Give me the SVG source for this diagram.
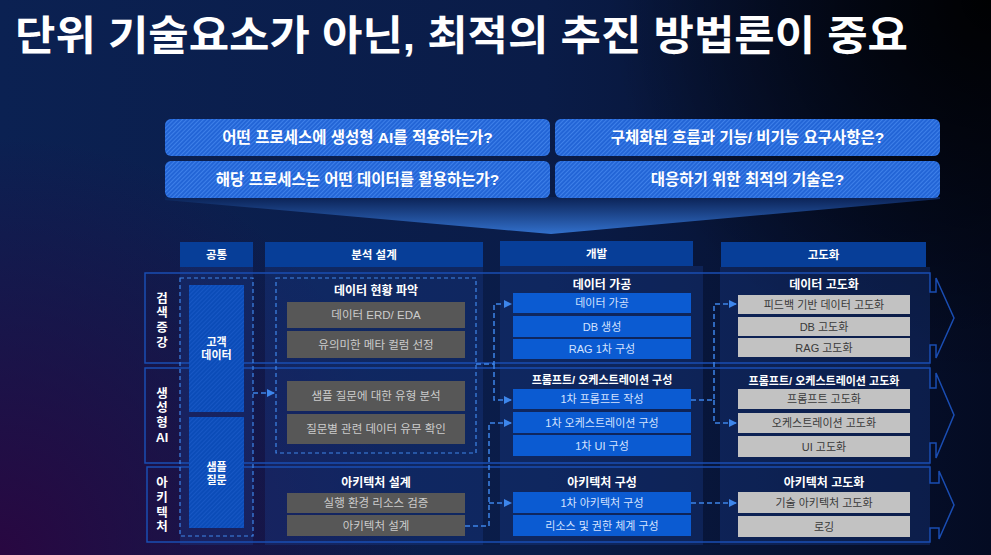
<svg xmlns="http://www.w3.org/2000/svg" width="991" height="555" viewBox="0 0 991 555">
<defs>
  <linearGradient id="bg" x1="0" y1="0" x2="1" y2="0">
    <stop offset="0" stop-color="#0b2152"/>
    <stop offset="0.55" stop-color="#0a1c48"/>
    <stop offset="1" stop-color="#040b22"/>
  </linearGradient>
  <radialGradient id="purple" cx="0" cy="555" r="420" gradientUnits="userSpaceOnUse">
    <stop offset="0" stop-color="#2a0640" stop-opacity="0.95"/>
    <stop offset="1" stop-color="#2a0640" stop-opacity="0"/>
  </radialGradient>
  <radialGradient id="dark" cx="991" cy="0" r="380" gradientUnits="userSpaceOnUse">
    <stop offset="0" stop-color="#000000" stop-opacity="0.95"/>
    <stop offset="1" stop-color="#000000" stop-opacity="0"/>
  </radialGradient>
  <linearGradient id="funnel" x1="0" y1="198" x2="0" y2="234" gradientUnits="userSpaceOnUse">
    <stop offset="0" stop-color="#0c2458"/>
    <stop offset="1" stop-color="#3270cc"/>
  </linearGradient>
  <pattern id="hatchQ" patternUnits="userSpaceOnUse" width="3" height="3" patternTransform="rotate(45)">
    <rect width="3" height="3" fill="#2365d6"/>
    <line x1="0" y1="0" x2="0" y2="3" stroke="#4a8cf2" stroke-width="1.4"/>
  </pattern>
  <pattern id="hatchC" patternUnits="userSpaceOnUse" width="3" height="3" patternTransform="rotate(45)">
    <rect width="3" height="3" fill="#0b4cb8"/>
    <line x1="0" y1="0" x2="0" y2="3" stroke="#1f5fcc" stroke-width="1.2"/>
  </pattern>
  <marker id="arr" markerUnits="userSpaceOnUse" markerWidth="9" markerHeight="9" refX="8" refY="4" orient="auto">
    <path d="M0,0 L8,4 L0,8 Z" fill="#3d86ec"/>
  </marker>
  <style>
    text { font-family: "Liberation Sans", "Noto Sans CJK KR", sans-serif; }
    .title { font-size: 41px; font-weight: 700; fill: #ffffff; }
    .q { font-size: 15.5px; font-weight: 700; fill: #ffffff; text-anchor: middle; }
    .hdr { font-size: 11.5px; font-weight: 700; fill: #ffffff; text-anchor: middle; }
    .rl { font-size: 12.5px; font-weight: 700; fill: #ffffff; text-anchor: middle; }
    .nt { font-size: 12px; font-weight: 700; fill: #ffffff; text-anchor: middle; }
    .nts { font-size: 11px; font-weight: 700; fill: #ffffff; text-anchor: middle; }
    .cb { font-size: 11px; font-weight: 700; fill: #ffffff; text-anchor: middle; }
    .gt { font-size: 11.5px; fill: #cccccc; text-anchor: middle; }
    .bt { font-size: 11px; fill: #d4e2ff; text-anchor: middle; }
    .lt { font-size: 11px; fill: #3a3a3a; text-anchor: middle; }
    .qbox { fill: url(#hatchQ); }
    .hbox { fill: #073e98; }
    .band { fill: #1a3c8c; fill-opacity: 0.35; }
    .frame { fill: none; stroke: #1a4db2; stroke-width: 1.5; }
    .dbox { fill: none; stroke: #3f86ea; stroke-width: 1.2; stroke-dasharray: 4 3; }
    .gbox { fill: #575757; }
    .bbox { fill: #0b5bd2; }
    .lbox { fill: #c2c2c2; }
    .conn { fill: none; stroke: #3d84e8; stroke-width: 1.5; stroke-dasharray: 5 3; }
  </style>
</defs>

<!-- background -->
<rect width="991" height="555" fill="url(#bg)"/>
<rect width="991" height="555" fill="url(#purple)"/>
<rect width="991" height="555" fill="url(#dark)"/>

<!-- title -->
<text class="title" x="15" y="50" textLength="893" lengthAdjust="spacingAndGlyphs">단위 기술요소가 아닌, 최적의 추진 방법론이 중요</text>

<!-- funnel -->
<polygon points="165,197 940,197 940,199 551,234 165,200" fill="url(#funnel)"/>

<!-- questions -->
<g id="q1"><rect class="qbox" x="165" y="119" width="385" height="37" rx="6"/><text class="q" x="357.5" y="143">어떤 프로세스에 생성형 AI를 적용하는가?</text></g>
<g id="q2"><rect class="qbox" x="555" y="119" width="385" height="37" rx="6"/><text class="q" x="747.5" y="143">구체화된 흐름과 기능/ 비기능 요구사항은?</text></g>
<g id="q3"><rect class="qbox" x="165" y="161" width="385" height="37" rx="6"/><text class="q" x="357.5" y="185">해당 프로세스는 어떤 데이터를 활용하는가?</text></g>
<g id="q4"><rect class="qbox" x="555" y="161" width="385" height="37" rx="6"/><text class="q" x="747.5" y="185">대응하기 위한 최적의 기술은?</text></g>

<!-- column bands -->
<rect class="band" x="180" y="267" width="73" height="278"/>
<rect class="band" x="265" y="267" width="218" height="278"/>
<rect class="band" x="500" y="266" width="203" height="279"/>
<rect class="band" x="720" y="267" width="210" height="278"/>

<!-- headers -->
<g id="h-common"><rect class="hbox" x="180" y="242" width="73" height="25"/><text class="hdr" x="216.5" y="258.5">공통</text></g>
<g id="h-analysis"><rect class="hbox" x="265" y="242" width="218" height="25"/><text class="hdr" x="374" y="258.5">분석 설계</text></g>
<g id="h-dev"><rect class="hbox" x="500" y="241" width="193" height="25"/><text class="hdr" x="596.5" y="257.5">개발</text></g>
<g id="h-adv"><rect class="hbox" x="721" y="242" width="205" height="25"/><text class="hdr" x="823.5" y="258.5">고도화</text></g>

<!-- row frames -->
<g id="row-rag">
  <path class="frame" d="M145,273 H930 V292 H936 V278 L954,318 L936,358 V345 H930 V363 H145 Z"/>
  <text class="rl" x="162" y="302.5"><tspan x="162">검</tspan><tspan x="162" dy="14.8">색</tspan><tspan x="162" dy="14.8">증</tspan><tspan x="162" dy="14.8">강</tspan></text>
</g>
<g id="row-genai">
  <path class="frame" d="M145,368 H930 V388 H936 V373 L954,415 L936,458 V443 H930 V463 H145 Z"/>
  <text class="rl" x="162" y="397.5"><tspan x="162">생</tspan><tspan x="162" dy="14.8">성</tspan><tspan x="162" dy="14.8">형</tspan><tspan x="162" dy="14.8">AI</tspan></text>
</g>
<g id="row-arch">
  <path class="frame" d="M147,467 H930 V483 H939 V471 L954,505 L939,539 V528 H930 V542 H147 Z"/>
  <text class="rl" x="162" y="487"><tspan x="162">아</tspan><tspan x="162" dy="14.8">키</tspan><tspan x="162" dy="14.8">텍</tspan><tspan x="162" dy="14.8">처</tspan></text>
</g>

<!-- common -->
<g id="common">
  <rect class="dbox" x="180" y="278" width="73" height="258"/>
  <rect x="189" y="285" width="55" height="127" fill="url(#hatchC)"/>
  <text class="cb" x="216.5" y="346"><tspan x="216.5">고객</tspan><tspan x="216.5" dy="12.6">데이터</tspan></text>
  <rect x="189" y="417" width="55" height="111" fill="url(#hatchC)"/>
  <text class="cb" x="216.5" y="471"><tspan x="216.5">샘플</tspan><tspan x="216.5" dy="12.6">질문</tspan></text>
</g>

<!-- analysis -->
<g id="analysis-data">
  <rect class="dbox" x="276" y="278" width="200" height="175"/>
  <text class="nt" x="376" y="294.5">데이터 현황 파악</text>
  <rect class="gbox" x="287" y="302" width="178" height="26"/><text class="gt" x="376" y="319">데이터 ERD/ EDA</text>
  <rect class="gbox" x="287" y="331" width="178" height="27"/><text class="gt" x="376" y="348.5">유의미한 메타 컬럼 선정</text>
  <rect class="gbox" x="287" y="381" width="178" height="30"/><text class="gt" x="376" y="400">샘플 질문에 대한 유형 분석</text>
  <rect class="gbox" x="287" y="414" width="178" height="30"/><text class="gt" x="376" y="433">질문별 관련 데이터 유무 확인</text>
</g>
<g id="analysis-arch">
  <text class="nt" x="376" y="486.5">아키텍처 설계</text>
  <rect class="gbox" x="287" y="493" width="178" height="20"/><text class="gt" x="376" y="507">실행 환경 리소스 검증</text>
  <rect class="gbox" x="287" y="515" width="178" height="21"/><text class="gt" x="376" y="529.5">아키텍처 설계</text>
</g>

<!-- dev -->
<g id="dev-data">
  <text class="nt" x="602" y="288.5">데이터 가공</text>
  <rect class="bbox" x="513" y="293" width="178" height="20"/><text class="bt" x="602" y="307">데이터 가공</text>
  <rect class="bbox" x="513" y="316" width="178" height="21"/><text class="bt" x="602" y="330.5">DB 생성</text>
  <rect class="bbox" x="513" y="339" width="178" height="20"/><text class="bt" x="602" y="353">RAG 1차 구성</text>
</g>
<g id="dev-prompt">
  <text class="nts" x="602" y="384">프롬프트/ 오케스트레이션 구성</text>
  <rect class="bbox" x="513" y="389" width="178" height="20"/><text class="bt" x="602" y="403">1차 프롬프트 작성</text>
  <rect class="bbox" x="513" y="412" width="178" height="21"/><text class="bt" x="602" y="426.5">1차 오케스트레이션 구성</text>
  <rect class="bbox" x="513" y="435" width="178" height="21"/><text class="bt" x="602" y="449.5">1차 UI 구성</text>
</g>
<g id="dev-arch">
  <text class="nt" x="602" y="486.5">아키텍처 구성</text>
  <rect class="bbox" x="513" y="492" width="178" height="21"/><text class="bt" x="602" y="506.5">1차 아키텍처 구성</text>
  <rect class="bbox" x="513" y="515" width="178" height="21"/><text class="bt" x="602" y="529.5">리소스 및 권한 체계 구성</text>
</g>

<!-- advanced -->
<g id="adv-data">
  <text class="nt" x="824" y="288.5">데이터 고도화</text>
  <rect class="lbox" x="738" y="295" width="172" height="19"/><text class="lt" x="824" y="308.5">피드백 기반 데이터 고도화</text>
  <rect class="lbox" x="738" y="317" width="172" height="19"/><text class="lt" x="824" y="330.5">DB 고도화</text>
  <rect class="lbox" x="738" y="338" width="172" height="19"/><text class="lt" x="824" y="351.5">RAG 고도화</text>
</g>
<g id="adv-prompt">
  <text class="nts" x="824" y="385">프롬프트/ 오케스트레이션 고도화</text>
  <rect class="lbox" x="738" y="389" width="172" height="20"/><text class="lt" x="824" y="403">프롬프트 고도화</text>
  <rect class="lbox" x="738" y="413" width="172" height="20"/><text class="lt" x="824" y="427">오케스트레이션 고도화</text>
  <rect class="lbox" x="738" y="436" width="172" height="21"/><text class="lt" x="824" y="450.5">UI 고도화</text>
</g>
<g id="adv-arch">
  <text class="nt" x="824" y="486.5">아키텍처 고도화</text>
  <rect class="lbox" x="738" y="492" width="172" height="21"/><text class="lt" x="824" y="506.5">기술 아키텍처 고도화</text>
  <rect class="lbox" x="738" y="516" width="172" height="21"/><text class="lt" x="824" y="530.5">로깅</text>
</g>

<!-- connectors -->
<g id="connectors">
  <path class="conn" d="M253,393 H275" marker-end="url(#arr)"/>
  <path class="conn" d="M476,364 H494 V304 H512" marker-end="url(#arr)"/>
  <path class="conn" d="M494,364 V400 H512" marker-end="url(#arr)"/>
  <path class="conn" d="M465,526 H489 V423 H512" marker-end="url(#arr)"/>
  <path class="conn" d="M489,503 H512" marker-end="url(#arr)"/>
  <path class="conn" d="M691,400 H714 V304 H737" marker-end="url(#arr)"/>
  <path class="conn" d="M714,400 V423 H737" marker-end="url(#arr)"/>
  <path class="conn" d="M691,503 H737" marker-end="url(#arr)"/>
</g>
</svg>
